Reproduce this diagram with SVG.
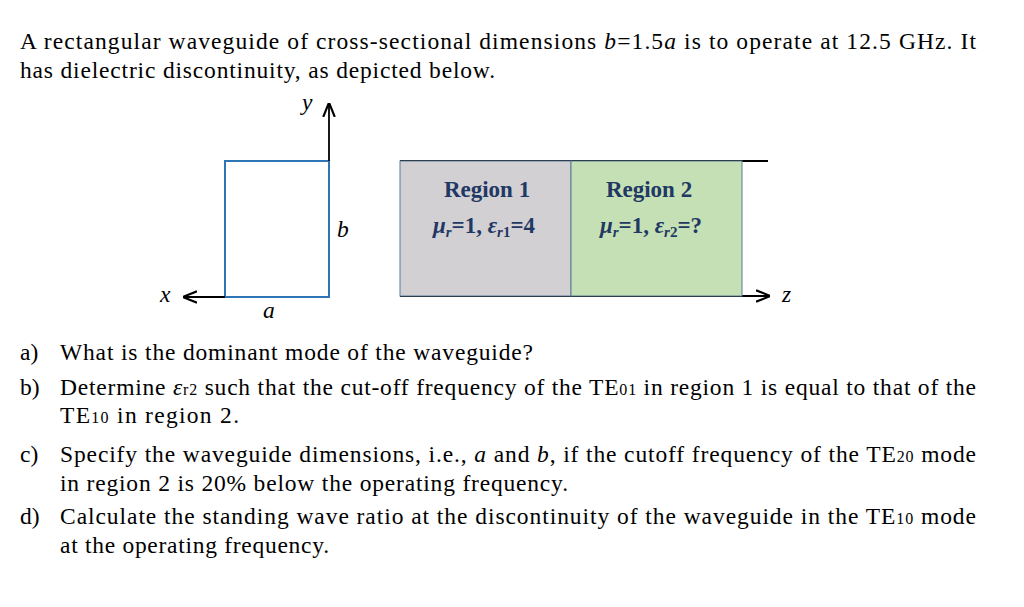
<svg xmlns="http://www.w3.org/2000/svg" width="1024" height="607" viewBox="0 0 1024 607">
<style>
text{font-family:"Liberation Serif",serif;font-size:23.5px;fill:#000}
.r{font-weight:bold;fill:#1f3864;font-size:23px}
.ax{stroke:#000;stroke-width:1.8;fill:none}
</style>
<defs><marker id="ar" viewBox="0 0 10 10" refX="9" refY="5" markerWidth="8" markerHeight="8" orient="auto"><path d="M0,1 L10,5 L0,9" fill="none" stroke="#000" stroke-width="1.5"/></marker></defs>
<rect width="1024" height="607" fill="#fff"/>
<text x="20" y="49" textLength="956" lengthAdjust="spacing">A rectangular waveguide of cross-sectional dimensions <tspan font-style="italic">b</tspan>=1.5<tspan font-style="italic">a</tspan> is to operate at 12.5 GHz. It</text>
<text x="20" y="78" textLength="475" lengthAdjust="spacing">has dielectric discontinuity, as depicted below.</text>
<g id="cross">
<rect x="225" y="161" width="104" height="136" fill="none" stroke="#2e75b6" stroke-width="2"/>
<text x="302" y="110" font-style="italic" font-size="19">y</text>
<text x="160" y="302" font-style="italic" font-size="19">x</text>
<text x="263" y="318" font-style="italic" font-size="19">a</text>
<text x="337" y="237" font-style="italic" font-size="19">b</text>
</g>
<g id="connectors">
<line class="ax" x1="329" y1="161" x2="329" y2="104" marker-end="url(#ar)"/>
<line class="ax" x1="225" y1="297" x2="184" y2="297" marker-end="url(#ar)"/>
<line class="ax" x1="400" y1="296" x2="769" y2="296" marker-end="url(#ar)"/>
<line class="ax" x1="400" y1="161" x2="768" y2="161"/>
</g>
<g id="region1">
<rect x="400" y="161" width="171" height="135" fill="#d3d0d3" stroke="#5b7c99" stroke-width="1"/>
<text class="r" x="487" y="197" text-anchor="middle">Region 1</text>
<text class="r" x="484" y="233" text-anchor="middle"><tspan font-style="italic">μ<tspan font-size="15" dy="4">r</tspan></tspan><tspan dy="-4">=1, </tspan><tspan font-style="italic">ε<tspan font-size="15" dy="4">r</tspan></tspan><tspan font-size="15">1</tspan><tspan dy="-4">=4</tspan></text>
</g>
<g id="region2">
<rect x="571" y="161" width="171" height="135" fill="#c5e0b4" stroke="#5b7c99" stroke-width="1"/>
<text class="r" x="649" y="197" text-anchor="middle">Region 2</text>
<text class="r" x="651" y="233" text-anchor="middle"><tspan font-style="italic">μ<tspan font-size="15" dy="4">r</tspan></tspan><tspan dy="-4">=1, </tspan><tspan font-style="italic">ε<tspan font-size="15" dy="4">r</tspan></tspan><tspan font-size="15">2</tspan><tspan dy="-4">=?</tspan></text>
</g>
<text x="782" y="302" font-style="italic" font-size="19">z</text>
<text x="20" y="360">a)</text><text x="60" y="360" textLength="473" lengthAdjust="spacing">What is the dominant mode of the waveguide?</text>
<text x="20" y="395">b)</text><text x="60" y="395" textLength="916" lengthAdjust="spacing">Determine <tspan font-style="italic">ε</tspan><tspan font-size="16">r2</tspan> such that the cut-off frequency of the TE<tspan font-size="16">01</tspan> in region 1 is equal to that of the</text>
<text x="60" y="423" textLength="179" lengthAdjust="spacing">TE<tspan font-size="16">10</tspan> in region 2.</text>
<text x="20" y="462">c)</text><text x="60" y="462" textLength="916" lengthAdjust="spacing">Specify the waveguide dimensions, i.e., <tspan font-style="italic">a</tspan> and <tspan font-style="italic">b</tspan>, if the cutoff frequency of the TE<tspan font-size="16">20</tspan> mode</text>
<text x="60" y="491" textLength="508" lengthAdjust="spacing">in region 2 is 20% below the operating frequency.</text>
<text x="20" y="524">d)</text><text x="60" y="524" textLength="916" lengthAdjust="spacing">Calculate the standing wave ratio at the discontinuity of the waveguide in the TE<tspan font-size="16">10</tspan> mode</text>
<text x="60" y="553" textLength="269" lengthAdjust="spacing">at the operating frequency.</text>
</svg>
